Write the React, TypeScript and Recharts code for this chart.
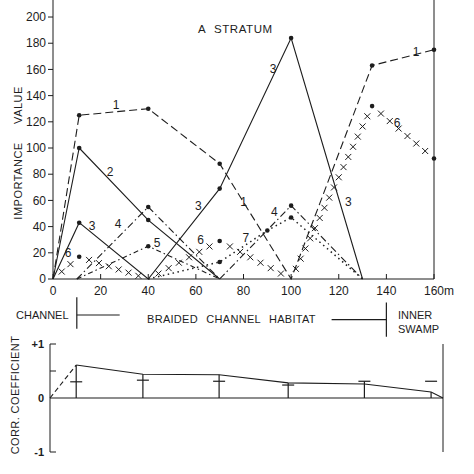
import React from 'react';
import {
  LineChart,
  ComposedChart,
  Line,
  Scatter,
  XAxis,
  YAxis,
  ReferenceLine,
  ReferenceDot,
} from 'recharts';

type Pt = { m: number; v: number };

// Distance along the transect (m) and importance value ticks
const distanceTicks = [0, 20, 40, 60, 80, 100, 120, 140, 160];
const importanceTicks = [0, 20, 40, 60, 80, 100, 120, 140, 160, 180, 200];

// Importance value of each A-stratum species along the transect
const species1: Pt[] = [
  { m: 0, v: 0 }, { m: 11, v: 125 }, { m: 40, v: 130 }, { m: 70, v: 88 },
  { m: 100, v: 0 }, { m: 134, v: 163 }, { m: 160, v: 175 },
];
const species2: Pt[] = [
  { m: 0, v: 0 }, { m: 11, v: 100 }, { m: 40, v: 45 }, { m: 70, v: 0 },
];
const species3: Pt[] = [
  { m: 0, v: 0 }, { m: 11, v: 43 }, { m: 40, v: 0 }, { m: 70, v: 69 },
  { m: 100, v: 184 }, { m: 130, v: 0 },
];
const species4: Pt[] = [
  { m: 10, v: 0 }, { m: 40, v: 55 }, { m: 70, v: 0 }, { m: 100, v: 56 }, { m: 130, v: 0 },
];
const species5: Pt[] = [
  { m: 10, v: 0 }, { m: 40, v: 25 }, { m: 70, v: 0 },
];
const species6: Pt[] = [
  { m: 0, v: 0 }, { m: 11, v: 17 }, { m: 40, v: 0 }, { m: 70, v: 29 },
  { m: 100, v: 0 }, { m: 134, v: 132 }, { m: 160, v: 92 },
];
const species7: Pt[] = [
  { m: 40, v: 0 }, { m: 70, v: 13 }, { m: 90, v: 37 }, { m: 100, v: 47 }, { m: 130, v: 0 },
];

// Species numbers written beside their curves
const curveLabels = [
  { t: '1', m: 26.5, v: 133 }, { t: '1', m: 80, v: 59 }, { t: '1', m: 152.5, v: 173 },
  { t: '2', m: 24, v: 82 },
  { t: '3', m: 16.4, v: 40.5 }, { t: '3', m: 61, v: 56 }, { t: '3', m: 92.4, v: 160 }, { t: '3', m: 124, v: 59 },
  { t: '4', m: 27.3, v: 42 }, { t: '4', m: 93, v: 51 },
  { t: '5', m: 43.7, v: 27.5 },
  { t: '6', m: 6.3, v: 20 }, { t: '6', m: 62, v: 30 }, { t: '6', m: 144.5, v: 119 },
  { t: '7', m: 81, v: 31 },
];

// Habitat boundary markers drawn under the distance axis
const habitatBars = [
  { m: 10, top: -14, bottom: -38 },
  { m: 140, top: -18, bottom: -44 },
];
const habitatArms = [
  { from: 10, to: 28, v: -27.5 },
  { from: 117, to: 140, v: -31 },
];

// Correlation coefficient per sampling station
const corrSites = [11, 39, 71, 100, 132, 160];
const corrValues = [0.61, 0.44, 0.43, 0.28, 0.26, 0.11];
const corrCaps = [0.3, 0.33, 0.31, 0.24, 0.31, 0.31];
const corrStemTops = [0.61, 0.44, 0.43, 0.28, 0.31, 0.11];
const corrTicksLeft = [-1, 0, 0.5, 1];
const corrTicksRight = [-1, 0.5, 1];

const corrLead = [{ m: 0, r: 0 }, { m: corrSites[0], r: corrValues[0] }];
const corrMain = corrSites.map((m, i) => ({ m, r: corrValues[i] })).concat([{ m: 165, r: 0 }]);
const corrCapPts = corrSites.map((m, i) => ({ m, r: corrCaps[i] }));

const INK = '#1d1d1d';
const FONT = '"Liberation Sans", Arial, sans-serif';

const pointDot = (props: any) => {
  const { cx, cy, value, index } = props;
  if (!value) return <g key={`p${index}`} />;
  return <circle key={`p${index}`} cx={cx} cy={cy} r={2.3} fill={INK} />;
};

// Species 6 is drawn as a trail of small crosses between its stations
const crossTrail = (props: any) => {
  const { cx, cy, value, index, points } = props;
  const marks: React.ReactNode[] = [];
  if (index > 0 && points && points[index - 1]) {
    const p = points[index - 1];
    const dx = cx - p.x;
    const dy = cy - p.y;
    const len = Math.hypot(dx, dy);
    const n = Math.max(1, Math.round(len / 11));
    for (let k = 1; k < n; k++) {
      const x = p.x + (dx * k) / n;
      const y = p.y + (dy * k) / n;
      marks.push(
        <path
          key={k}
          d={`M${x - 3},${y - 3}L${x + 3},${y + 3}M${x - 3},${y + 3}L${x + 3},${y - 3}`}
          stroke={INK}
          strokeWidth={1}
        />
      );
    }
  }
  return (
    <g key={`c${index}`}>
      {marks}
      {value ? <circle cx={cx} cy={cy} r={2.3} fill={INK} /> : null}
    </g>
  );
};

const curveLabelContent = (text: string) => (props: any) => {
  const vb = props.viewBox || {};
  const x = (vb.x || 0) + (vb.width || 0) / 2;
  const y = (vb.y || 0) + (vb.height || 0) / 2;
  return (
    <text x={x} y={y + 4} textAnchor="middle" fontSize={12} fontFamily={FONT} fill={INK}>
      {text}
    </text>
  );
};

const DistanceTick = (props: any) => {
  const { x, y, payload } = props;
  const last = payload.value === 160;
  return (
    <g>
      <line x1={x} x2={x} y1={y} y2={y - 5} stroke={INK} />
      <text
        x={last ? x - 10 : x}
        y={y + 16}
        textAnchor={last ? 'start' : 'middle'}
        fontSize={12}
        fontFamily={FONT}
        fill={INK}
      >
        {last ? '160m' : payload.value}
      </text>
    </g>
  );
};

const RightValueTick = (props: any) => {
  const { x, y, payload } = props;
  return (
    <g>
      <line x1={x - 4} x2={x} y1={y} y2={y} stroke={INK} />
      <text x={x + 3} y={y + 4} textAnchor="start" fontSize={12} fontFamily={FONT} fill={INK}>
        {payload.value}
      </text>
    </g>
  );
};

const CorrLeftTick = (props: any) => {
  const { x, y, payload } = props;
  const v = payload.value;
  const label = v === 1 ? '+1' : v === -1 ? '-1' : v === 0 ? '0' : '';
  return (
    <g>
      {v !== 0 && <line x1={x} x2={x + 6} y1={y} y2={y} stroke={INK} />}
      {label && (
        <text x={x - 6} y={y + 4} textAnchor="end" fontSize={11} fontFamily={FONT} fill={INK} fontWeight="bold">
          {label}
        </text>
      )}
    </g>
  );
};

const CorrRightTick = (props: any) => {
  const { x, y } = props;
  return <line x1={x} x2={x - 6} y1={y} y2={y} stroke={INK} />;
};

const CapShape = (props: any) => {
  const { cx, cy } = props;
  return <line x1={cx - 6} x2={cx + 6} y1={cy} y2={cy} stroke={INK} strokeWidth={1.2} />;
};

const seriesStyle = { stroke: INK, strokeWidth: 1.1, fill: 'none' };

export default function App() {
  return (
    <div style={{ position: 'absolute', left: 0, top: 0, width: 474, height: 474, background: '#fff', overflow: 'hidden' }}>
      <div style={{ position: 'absolute', left: 0, top: 0 }}>
        <LineChart width={474} height={345} margin={{ top: 0, right: 0, bottom: 42, left: 0 }}>
          <XAxis
            type="number"
            dataKey="m"
            domain={[0, 160]}
            ticks={distanceTicks}
            allowDuplicatedCategory={false}
            axisLine={{ stroke: INK }}
            tickLine={false}
            tickSize={0}
            tickMargin={0}
            height={24}
            tick={DistanceTick}
            interval={0}
          />
          <YAxis
            yAxisId="l"
            type="number"
            domain={[0, 213]}
            ticks={importanceTicks}
            width={53}
            axisLine={{ stroke: INK }}
            tickLine={{ stroke: INK }}
            tickSize={5}
            tickMargin={2}
            tick={{ fontSize: 12, fill: INK, fontFamily: FONT }}
            interval={0}
          />
          <YAxis
            yAxisId="r"
            orientation="right"
            type="number"
            domain={[0, 213]}
            ticks={importanceTicks}
            width={40}
            axisLine={{ stroke: INK }}
            tickLine={false}
            tickSize={0}
            tickMargin={0}
            tick={RightValueTick}
            interval={0}
          />
          <Line yAxisId="l" data={species1} dataKey="v" {...seriesStyle} strokeDasharray="8 4" dot={pointDot} isAnimationActive={false} />
          <Line yAxisId="l" data={species2} dataKey="v" {...seriesStyle} dot={pointDot} isAnimationActive={false} />
          <Line yAxisId="l" data={species3} dataKey="v" {...seriesStyle} dot={pointDot} isAnimationActive={false} />
          <Line yAxisId="l" data={species4} dataKey="v" {...seriesStyle} strokeDasharray="7 3 1.5 3" dot={pointDot} isAnimationActive={false} />
          <Line yAxisId="l" data={species5} dataKey="v" {...seriesStyle} strokeDasharray="5 3 1.5 3" dot={pointDot} isAnimationActive={false} />
          <Line yAxisId="l" data={species6} dataKey="v" stroke="none" fill="none" dot={crossTrail} isAnimationActive={false} />
          <Line yAxisId="l" data={species7} dataKey="v" {...seriesStyle} strokeWidth={1.5} strokeDasharray="1.5 3.5" dot={pointDot} isAnimationActive={false} />
          {curveLabels.map((c, i) => (
            <ReferenceDot
              key={`lab${i}`}
              yAxisId="l"
              x={c.m}
              y={c.v}
              r={0}
              fill="none"
              stroke="none"
              label={{ content: curveLabelContent(c.t) }}
            />
          ))}
          {habitatBars.map((b, i) => (
            <ReferenceLine
              key={`hb${i}`}
              yAxisId="l"
              segment={[{ x: b.m, y: b.top }, { x: b.m, y: b.bottom }]}
              stroke={INK}
              strokeWidth={1.2}
              ifOverflow="visible"
            />
          ))}
          {habitatArms.map((a, i) => (
            <ReferenceLine
              key={`ha${i}`}
              yAxisId="l"
              segment={[{ x: a.from, y: a.v }, { x: a.to, y: a.v }]}
              stroke={INK}
              strokeWidth={1.1}
              ifOverflow="visible"
            />
          ))}
        </LineChart>
      </div>

      <div style={{ position: 'absolute', left: 0, top: 330 }}>
        <ComposedChart width={474} height={140} margin={{ top: 14, right: 0, bottom: 18, left: 0 }}>
          <XAxis type="number" dataKey="m" domain={[0, 165]} hide allowDuplicatedCategory={false} />
          <YAxis
            yAxisId="l"
            type="number"
            domain={[-1, 1]}
            ticks={corrTicksLeft}
            width={50}
            axisLine={{ stroke: INK }}
            tickLine={false}
            tickSize={0}
            tickMargin={0}
            tick={CorrLeftTick}
            interval={0}
          />
          <YAxis
            yAxisId="r"
            orientation="right"
            type="number"
            domain={[-1, 1]}
            ticks={corrTicksRight}
            width={31}
            axisLine={{ stroke: INK }}
            tickLine={false}
            tickSize={0}
            tickMargin={0}
            tick={CorrRightTick}
            interval={0}
          />
          <ReferenceLine yAxisId="l" y={0} stroke={INK} strokeWidth={1.2} />
          {corrSites.map((m, i) => (
            <ReferenceLine
              key={`st${i}`}
              yAxisId="l"
              segment={[{ x: m, y: 0 }, { x: m, y: corrStemTops[i] }]}
              stroke={INK}
              strokeWidth={1.2}
            />
          ))}
          <Line yAxisId="l" data={corrLead} dataKey="r" stroke={INK} strokeWidth={1.1} strokeDasharray="5 3" dot={false} isAnimationActive={false} />
          <Line yAxisId="l" data={corrMain} dataKey="r" stroke={INK} strokeWidth={1.1} dot={false} isAnimationActive={false} />
          <Scatter yAxisId="l" data={corrCapPts} dataKey="r" shape={CapShape} isAnimationActive={false} />
        </ComposedChart>
      </div>

      <svg
        width={474}
        height={474}
        style={{ position: 'absolute', left: 0, top: 0, pointerEvents: 'none' }}
        fontFamily={FONT}
        fill={INK}
      >
        <text x={198} y={33} fontSize={11.5} letterSpacing={0.6}>
          A{'\u00a0\u00a0'}STRATUM
        </text>
        <text transform="translate(22,181) rotate(-90)" textAnchor="middle" fontSize={11} letterSpacing={0.5}>
          IMPORTANCE
        </text>
        <text transform="translate(22,105) rotate(-90)" textAnchor="middle" fontSize={11} letterSpacing={0.5}>
          VALUE
        </text>
        <text transform="translate(19,395) rotate(-90)" textAnchor="middle" fontSize={11} letterSpacing={0.4}>
          CORR. COEFFICIENT
        </text>
        <text x={16} y={319} fontSize={11}>CHANNEL</text>
        <text x={147} y={323} fontSize={11} letterSpacing={0.3} wordSpacing={5}>
          BRAIDED CHANNEL HABITAT
        </text>
        <text x={398} y={319} fontSize={11}>INNER</text>
        <text x={398} y={333} fontSize={11}>SWAMP</text>
      </svg>
    </div>
  );
}
